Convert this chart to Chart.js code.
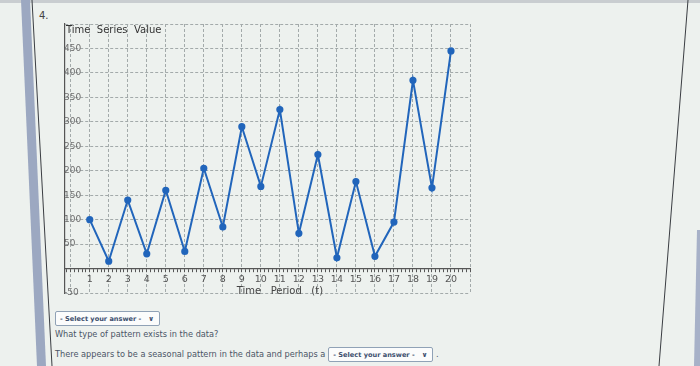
<!DOCTYPE html>
<html>
<head>
<meta charset="utf-8">
<script src="https://cdn.jsdelivr.net/npm/chart.js@4.4.1/dist/chart.umd.min.js"></script>
<style>
  body { margin: 0; width: 700px; height: 366px; background: #edf1ee; position: relative; overflow: hidden; font-family: "DejaVu Sans", sans-serif; }
  #top { position: absolute; left: 0; top: 0; width: 700px; height: 3px; background: #c9cdd0; }
  #stripe { position: absolute; left: 0; top: 0; width: 700px; height: 366px; background: #9ca8c1;
            clip-path: polygon(21px 0, 30px 0, 46px 366px, 37px 366px); }
  #stripeR { position: absolute; left: 0; top: 0; width: 700px; height: 366px; background: #a7b1c8;
            clip-path: polygon(697px 230px, 700px 230px, 700px 366px, 694px 366px); }
  svg { position: absolute; left: 0; top: 0; }
  #num { position: absolute; left: 39px; top: 10px; font-size: 10px; color: #444; }
  #box { position: absolute; left: 58px; top: 18px; width: 418px; height: 286px; }
  .sel { display: inline-flex; align-items: center; justify-content: space-between; box-sizing: border-box; height: 15px;
         border: 1px solid #90a2b6; border-radius: 2px; background: #fbfcfc; font-size: 6.6px; font-weight: bold;
         color: #3d4f6e; padding: 0 5px 0 4px; vertical-align: middle; white-space: nowrap; }
  .sel b { font-weight: bold; font-size: 7px; }
  #sel1 { position: absolute; left: 55px; top: 311px; width: 105px; }
  .line { position: absolute; left: 55px; font-size: 8.2px; color: #4b5566; white-space: nowrap; }
  #q { top: 329px; }
  #a { top: 347px; }
  #sel2 { width: 105px; margin-left: 3px; }
</style>
</head>
<body>
<div id="top"></div>
<div id="stripe"></div>
<div id="stripeR"></div>
<svg width="700" height="366"><line x1="32" y1="0" x2="52" y2="366" stroke="#3a3d42" stroke-width="1"/><line x1="688" y1="0" x2="659" y2="366" stroke="#3a3d42" stroke-width="1"/></svg>
<div id="num">4.</div>
<div id="box"><canvas id="chart"></canvas></div>
<div id="sel1" class="sel"><span>- Select your answer -</span><b>&#8744;</b></div>
<div id="q" class="line">What type of pattern exists in the data?</div>
<div id="a" class="line">There appears to be a seasonal pattern in the data and perhaps a<span id="sel2" class="sel"><span>- Select your answer -</span><b>&#8744;</b></span> .</div>
<script>
const periods = [1, 2, 3, 4, 5, 6, 7, 8, 9, 10, 11, 12, 13, 14, 15, 16, 17, 18, 19, 20];
const values = [100, 15, 140, 30, 160, 35, 205, 85, 290, 168, 325, 72, 233, 22, 178, 25, 95, 385, 165, 445];
const yTickValues = [-50, 0, 50, 100, 150, 200, 250, 300, 350, 400, 450, 500];
const yTitle = 'Time  Series  Value';
const xTitle = 'Time   Period   (t)';

const isInt = v => Math.abs(v - Math.round(v)) < 1e-6;

const decor = {
  id: 'decor',
  afterDraw(chart) {
    const { ctx, chartArea: a, scales } = chart;
    ctx.save();
    ctx.font = '10px "DejaVu Sans"';
    ctx.fillStyle = '#333';
    ctx.textBaseline = 'top';
    ctx.textAlign = 'left';
    ctx.fillText(yTitle, a.left + 1, 7);
    ctx.fillStyle = '#444';
    ctx.textAlign = 'center';
    ctx.fillText(xTitle, scales.x.getPixelForValue(11), scales.y.getPixelForValue(0) + 18);
    ctx.restore();
  }
};

new Chart(document.getElementById('chart'), {
  type: 'line',
  data: {
    datasets: [{
      data: periods.map((t, i) => ({ x: t, y: values[i] })),
      borderColor: '#2165bb',
      backgroundColor: '#2165bb',
      borderWidth: 2,
      pointRadius: 2.6,
      tension: 0
    }]
  },
  options: {
    responsive: true,
    maintainAspectRatio: false,
    animation: false,
    layout: { padding: { left: 6, top: 0, right: 0, bottom: 11 } },
    plugins: { legend: { display: false }, tooltip: { enabled: false } },
    scales: {
      x: {
        type: 'linear',
        position: { y: 0 },
        min: -0.3,
        max: 21,
        ticks: {
          stepSize: 0.1,
          autoSkip: false,
          maxRotation: 0,
          maxTicksLimit: 400,
          padding: 2,
          color: '#555',
          font: { family: 'DejaVu Sans', size: 9.5 },
          callback: v => (isInt(v) && periods.includes(Math.round(v))) ? String(Math.round(v)) : ''
        },
        grid: {
          color: c => (c.tick && isInt(c.tick.value) && c.tick.value >= 0) ? '#a3aaaa' : 'rgba(0,0,0,0)',
          tickColor: c => (c.tick && Math.round(c.tick.value * 10) % 2 === 0) ? '#555' : 'rgba(0,0,0,0)',
          tickLength: 3,
          tickBorderDash: []
        },
        border: { color: '#555', width: 1.2, dash: [3, 2] }
      },
      y: {
        min: -50,
        max: 500,
        afterFit: s => { s.width = 1; },
        afterBuildTicks: s => { s.ticks = yTickValues.map(v => ({ value: v })); },
        ticks: {
          mirror: true,
          padding: -1,
          color: '#6e6e6e',
          font: { family: 'DejaVu Sans', size: 9 },
          callback: v => (v === 0 || v === 500) ? '' : String(v)
        },
        grid: { color: '#a3aaaa', drawTicks: false },
        border: { color: '#555', width: 1.2, dash: [3, 2] }
      }
    }
  },
  plugins: [decor]
});
</script>
</body>
</html>
